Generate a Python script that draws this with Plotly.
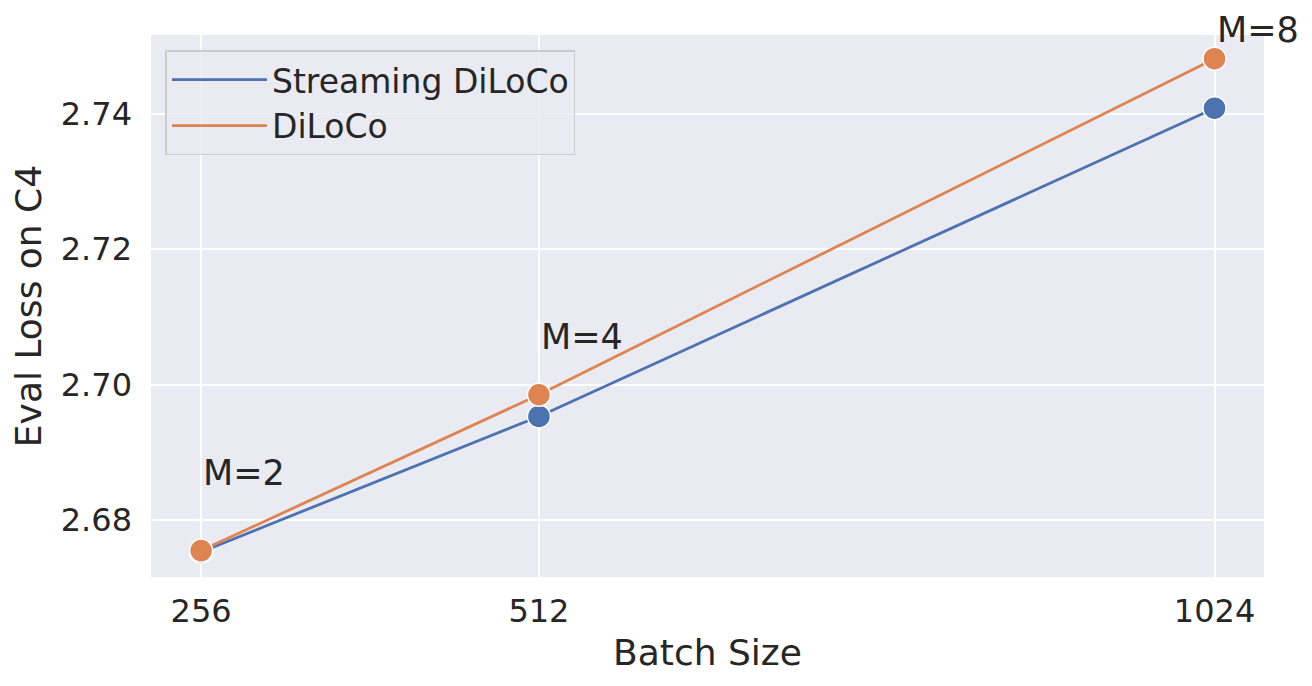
import plotly.graph_objects as go

# data
batch_sizes = [256, 512, 1024]
streaming_loss = [2.6753, 2.6953, 2.7408]
diloco_loss = [2.6755, 2.6985, 2.7481]
worker_labels = ["M=2", "M=4", "M=8"]
label_lift_px = [78, 58, 29]  # how far each label sits above the DiLoCo dot

BLUE = "#4c72b0"
ORANGE = "#dd8452"
INK = "#262626"
FONT = "DejaVu Sans"


def main():
    fig = go.Figure()

    series = [("Streaming DiLoCo", streaming_loss, BLUE),
              ("DiLoCo", diloco_loss, ORANGE)]

    # lines first (these carry the legend entries), then the dots on top
    for name, ys, color in series:
        fig.add_trace(go.Scatter(
            x=batch_sizes, y=ys, mode="lines", name=name,
            line=dict(color=color, width=2.8),
        ))
    for name, ys, color in series:
        fig.add_trace(go.Scatter(
            x=batch_sizes, y=ys, mode="markers", name=name,
            marker=dict(size=23, color=color, line=dict(color="white", width=1.5)),
            showlegend=False, cliponaxis=False,
        ))

    # worker count labels above each DiLoCo point
    for bs, lab, yv, lift in zip(batch_sizes, worker_labels, diloco_loss, label_lift_px):
        fig.add_annotation(
            x=bs, y=yv, yshift=lift, text=lab, showarrow=False,
            xanchor="left", yanchor="middle",
            font=dict(family=FONT, size=35, color=INK),
        )

    # the page body has an 8px margin, so the figure is a bit smaller than the window
    fig.update_layout(
        width=1296, height=670,
        margin=dict(l=143, r=40, t=27, b=101),
        paper_bgcolor="white",
        plot_bgcolor="#eaeaf2",
        font=dict(family=FONT, size=32, color=INK),
        showlegend=True,
        legend=dict(
            x=0.013, y=0.972, xanchor="left", yanchor="top",
            bgcolor="rgba(234,234,242,0.8)",
            bordercolor="#cccccc", borderwidth=1.5,
            font=dict(family=FONT, size=33, color=INK),
            itemwidth=95,
            tracegroupgap=6,
        ),
        xaxis=dict(
            range=[218, 1061.5],
            tickvals=batch_sizes,
            ticktext=[str(b) for b in batch_sizes],
            showgrid=True, gridcolor="white", gridwidth=2,
            zeroline=False, showline=False,
            ticklabelstandoff=12,
            title=dict(text="Batch Size", standoff=10,
                       font=dict(family=FONT, size=36, color=INK)),
        ),
        yaxis=dict(
            range=[2.6716, 2.7516],
            tickvals=[2.68, 2.70, 2.72, 2.74],
            tickformat=".2f",
            showgrid=True, gridcolor="white", gridwidth=2,
            zeroline=False, showline=False,
            ticklabelstandoff=18,
            title=dict(text="Eval Loss on C4", standoff=10,
                       font=dict(family=FONT, size=36, color=INK)),
        ),
    )

    fig.write_html("out.html")


if __name__ == "__main__":
    main()
